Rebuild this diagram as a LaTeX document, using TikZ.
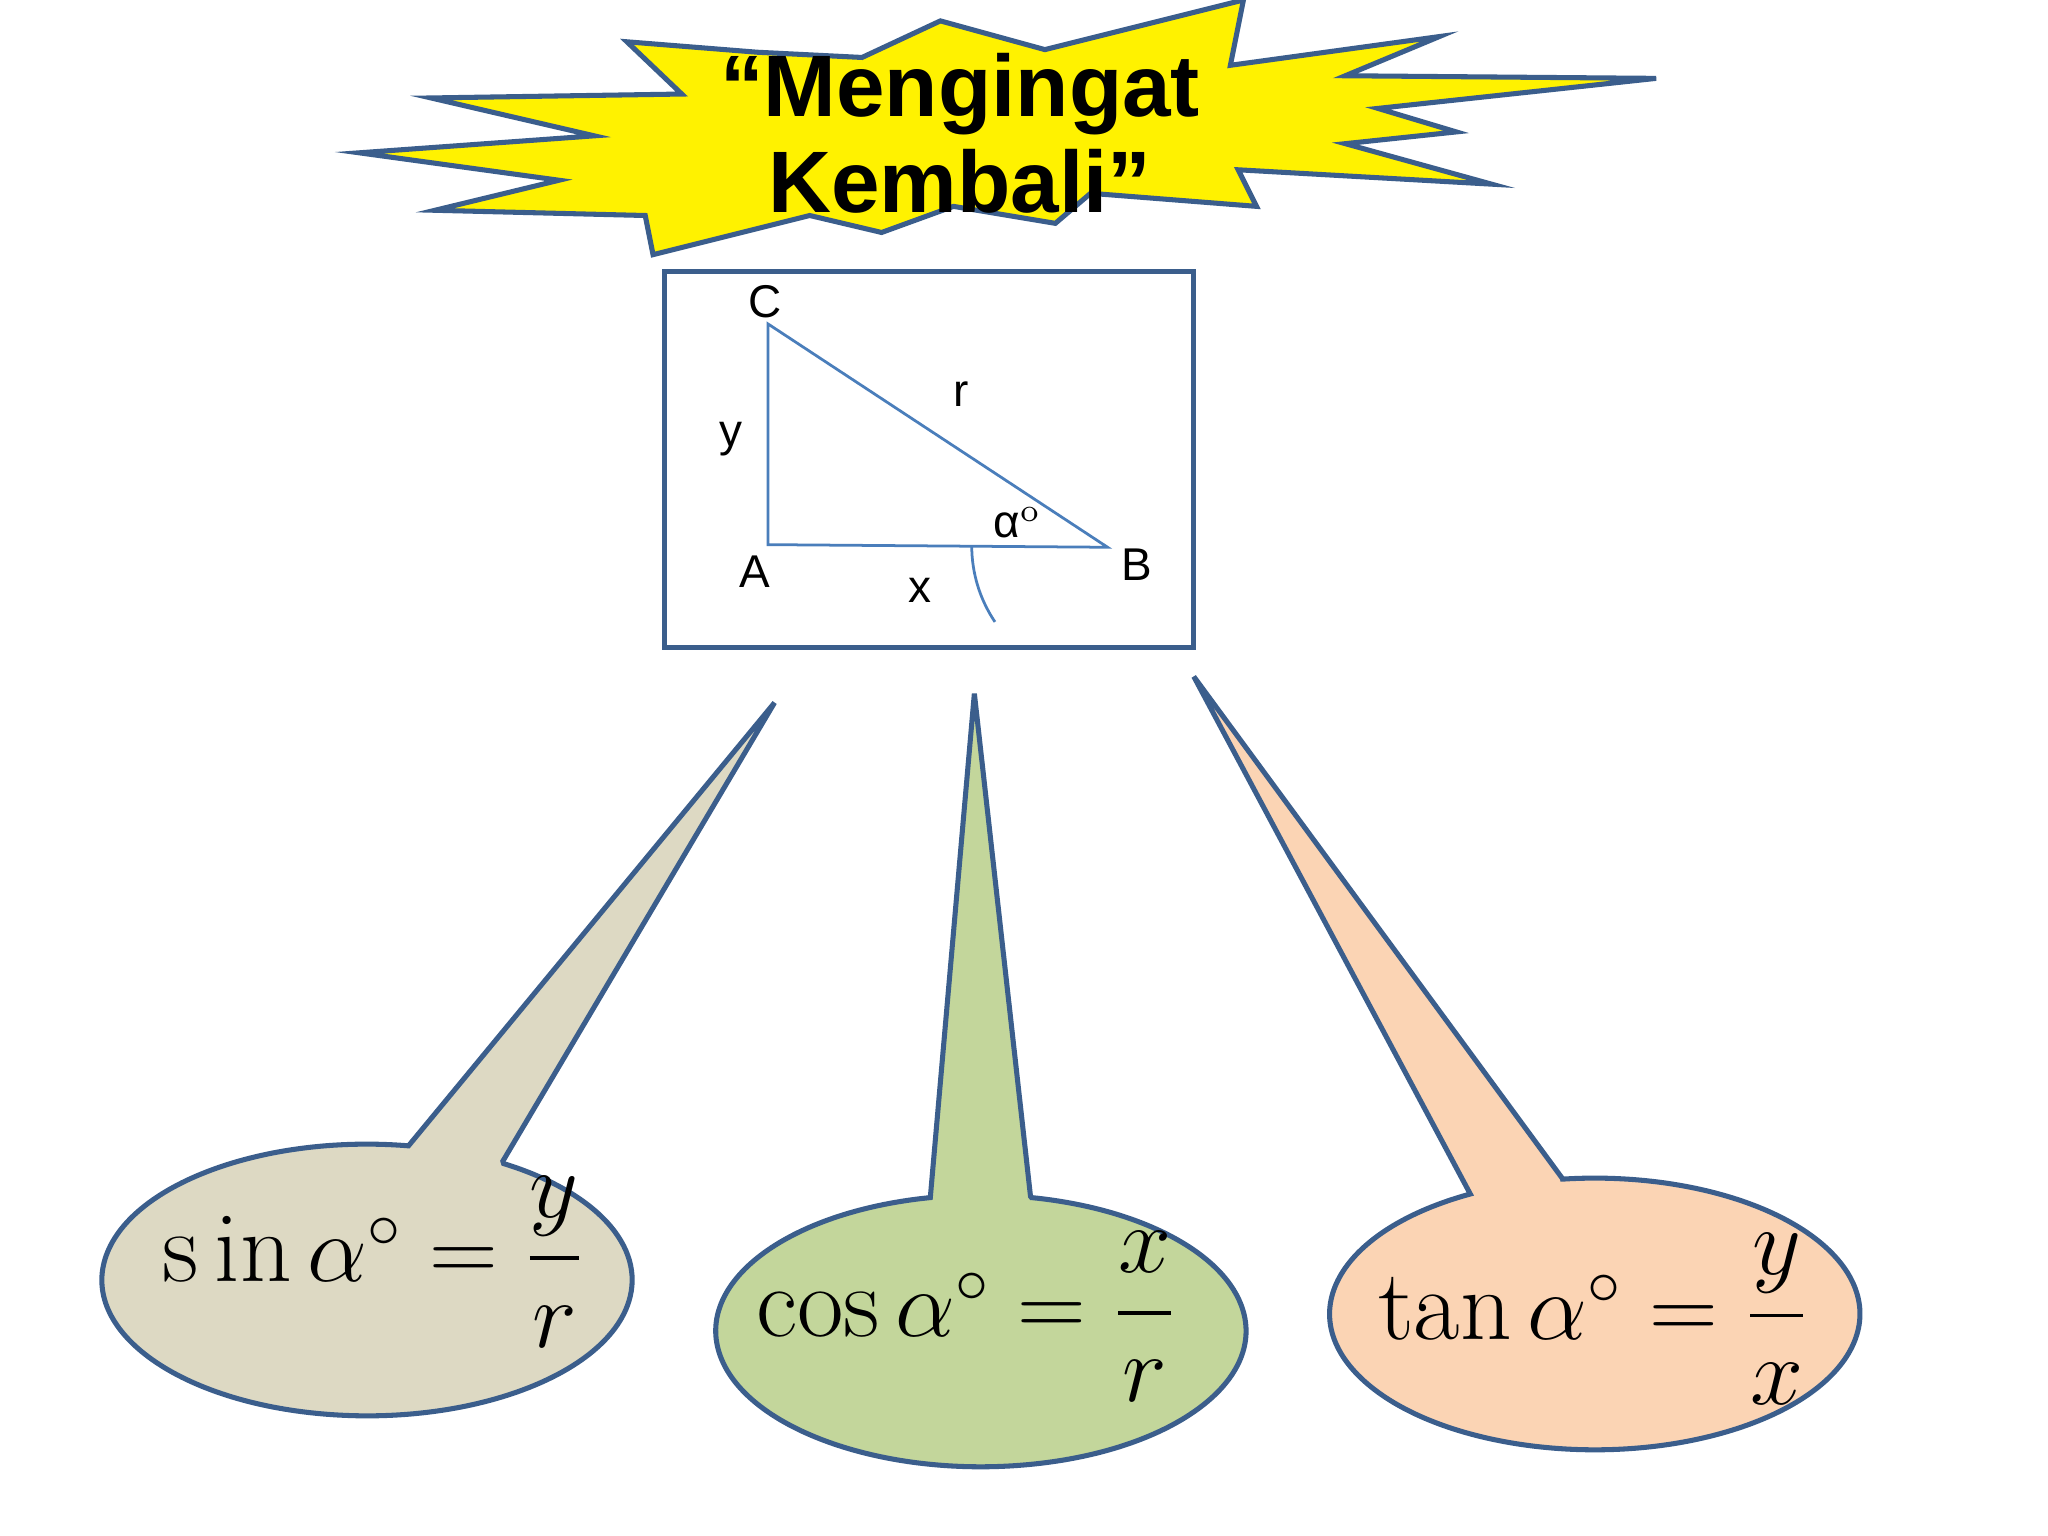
\documentclass[tikz,border=0pt]{standalone}
\usepackage{fontspec}
\setsansfont{Liberation Sans}
\usepackage{amsmath}
\definecolor{ln}{HTML}{3B5E8C}
\definecolor{fa}{HTML}{DDD9C3}
\definecolor{fb}{HTML}{C3D69B}
\definecolor{fc}{HTML}{FBD4B4}
\definecolor{tri}{HTML}{4A7EBB}
\tikzset{bub/.style={draw=ln,line width=1.1pt,line join=miter},
 lab/.style={font=\sffamily\fontsize{10}{12}\selectfont},
 frm/.style={font=\fontsize{22}{26}\selectfont}}
\begin{document}
\begin{tikzpicture}[x=0.01cm,y=-0.01cm]
\useasboundingbox (0,0) rectangle (1568,1176);
\fill[white] (0,0) rectangle (1568,1176);
% star
\filldraw[bub,fill=yellow] (480,32)--(522,72)--(330,75)--(455,104)--(275,117)--(428,138)--(333,161)--(494,165)--(500,195)--(620,165)--(675,178)--(730,158)--(808,171)--(835,148)--(962,158)--(948,130)--(1142,141)--(1030,110)--(1115,101)--(1055,83)--(1268,60)--(1030,58)--(1102,28)--(942,50)--(952,0)--(800,38)--(720,16)--(660,44)--(580,40)--cycle;
\node[font=\sffamily\bfseries\fontsize{19}{21}\selectfont,align=center] (title) at (735,102) {“Mengingat\\Kembali”};
% box
\draw[bub] (509,208) rectangle (914,496);
\coordinate (A) at (588,417); \coordinate (C) at (588,248); \coordinate (B) at (848,419);
\draw[tri,line width=0.6pt] (A)--(C)--(B)--cycle;
\draw[tri,line width=0.6pt] (744,418) arc[start angle=180,end angle=146,radius=104];
\node[lab] (lC) at (586,231) {C};
\node[lab] (ly) at (560,336) {y};
\node[lab] (lr) at (736,302) {r};
\node[lab] (lA) at (578,438) {A};
\node[lab] (lx) at (704,452) {x};
\node[lab] (lB) at (870,432) {B};
\node[lab] (la) at (779,400) {α$^{\mathrm o}$};
% bubbles
\filldraw[bub,fill=fa] (385,889)--(593,538)--([shift={(281,980)}]-81:203 and 104) arc[start angle=-81,end angle=-419,x radius=203,y radius=104]--cycle;
\filldraw[bub,fill=fb] (789,916)--(746,531)--([shift={(751,1019)}]-101:203 and 104) arc[start angle=-101,end angle=-439,x radius=203,y radius=104]--cycle;
\filldraw[bub,fill=fc] (1196,902)--(914,518)--([shift={(1221,1006)}]-118:203 and 104) arc[start angle=-118,end angle=-457,x radius=203,y radius=104]--cycle;
\node[frm] (f1) at (286,966) {$\mathrm{s\,in}\,\alpha^\circ=\dfrac{y}{r}$};
\node[frm] (f2) at (740,1008) {$\mathrm{cos}\,\alpha^\circ=\dfrac{x}{r}$};
\node[frm] (f3) at (1220,1010) {$\mathrm{tan}\,\alpha^\circ=\dfrac{y}{x}$};
\end{tikzpicture}
\end{document}
